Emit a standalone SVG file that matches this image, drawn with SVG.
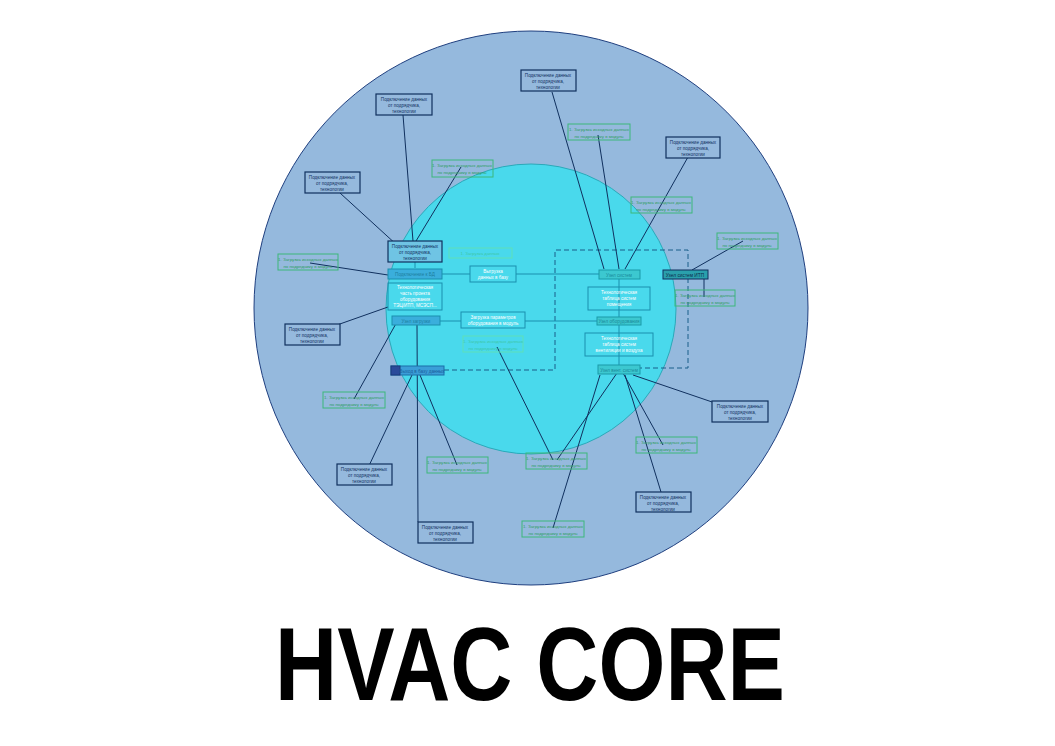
<svg xmlns="http://www.w3.org/2000/svg" width="1055" height="746" viewBox="0 0 1055 746">
<style>
.nd rect{fill:#95b9dd;stroke:#10305e;stroke-width:1.2}
.nd text{fill:#10305e;font-family:"Liberation Sans Narrow","Liberation Sans",sans-serif;font-size:4.6px;text-anchor:middle}
.gr rect{fill:none;stroke:#3db87a;stroke-width:1}
.gr text{fill:#2f9e62;font-family:"Liberation Sans Narrow","Liberation Sans",sans-serif;font-size:4.4px;text-anchor:middle}
.gi rect{fill:none;stroke:#5ee0b8;stroke-width:1}
.gi text{fill:#3ec8a8;font-family:"Liberation Sans Narrow","Liberation Sans",sans-serif;font-size:4.4px;text-anchor:middle}
.tl rect{fill:none;stroke:#1a8fae;stroke-width:1}
.tl text{fill:#fff;font-family:"Liberation Sans Narrow","Liberation Sans",sans-serif;font-size:4.6px;text-anchor:middle}
.tf rect{fill:#3aaedc;stroke:#1a8fae;stroke-width:1}
.tf text{fill:#1d7fa0;font-family:"Liberation Sans Narrow","Liberation Sans",sans-serif;font-size:4.6px;text-anchor:middle}
.tt rect{fill:#3cc8d0;stroke:#1a9aa8;stroke-width:1}
.tt text{fill:#1a8a9a;font-family:"Liberation Sans Narrow","Liberation Sans",sans-serif;font-size:4.6px;text-anchor:middle}
.ln line{stroke:#10305e;stroke-width:1}
.li line{stroke:#1a8fae;stroke-width:1}
.ds{fill:none;stroke:#1a5f8a;stroke-width:1;stroke-dasharray:5,3}
</style>
<rect width="1055" height="746" fill="#fff"/>
<circle cx="531" cy="308" r="277" fill="#95b9dd" stroke="#1f3f7f" stroke-width="1"/>
<circle cx="531" cy="309" r="145" fill="#49d9ec" stroke="#2aa9b9" stroke-width="1"/>

<g id="connectors">
<path class="ds" d="M444,370 H555 V250 H688 V368 H640"/>
<g class="ln">
<line x1="403" y1="115" x2="413" y2="241"/>
<line x1="340" y1="193" x2="398" y2="246"/>
<line x1="461" y1="167" x2="416" y2="241"/>
<line x1="310" y1="263" x2="388" y2="275"/>
<line x1="337" y1="325" x2="388" y2="307"/>
<line x1="354" y1="399" x2="398" y2="320"/>
<line x1="412" y1="375" x2="366" y2="472"/>
<line x1="420" y1="375" x2="457" y2="465"/>
<line x1="417" y1="325" x2="418" y2="522"/>
<line x1="552" y1="92" x2="604" y2="269"/>
<line x1="598" y1="135" x2="619" y2="269"/>
<line x1="688" y1="157" x2="625" y2="269"/>
<line x1="743" y1="241" x2="692" y2="270"/>
<line x1="704" y1="278" x2="704" y2="297"/>
<line x1="633" y1="375" x2="718" y2="404"/>
<line x1="625" y1="375" x2="661" y2="492"/>
<line x1="623" y1="373" x2="663" y2="445"/>
<line x1="617" y1="373" x2="557" y2="460"/>
<line x1="600" y1="375" x2="553" y2="528"/>
<line x1="497" y1="347" x2="553" y2="460"/>
</g>
<g class="li">
<line x1="442" y1="274" x2="470" y2="274"/>
<line x1="516" y1="274" x2="599" y2="274"/>
<line x1="440" y1="321" x2="461" y2="321"/>
<line x1="525" y1="321" x2="597" y2="321"/>
<line x1="619" y1="279" x2="619" y2="365"/>
<line x1="415" y1="262" x2="415" y2="268"/>
</g>
</g>

<g id="n1" class="nd"><rect x="376" y="94" width="56" height="21"/><text x="404" y="101">Подключение данных</text><text x="404" y="107">от подрядчика,</text><text x="404" y="113">технологии</text></g>
<g id="n2" class="nd"><rect x="521" y="70" width="55" height="21"/><text x="548" y="77">Подключение данных</text><text x="548" y="83">от подрядчика,</text><text x="548" y="89">технологии</text></g>
<g id="n3" class="nd"><rect x="666" y="137" width="54" height="21"/><text x="693" y="144">Подключение данных</text><text x="693" y="150">от подрядчика,</text><text x="693" y="156">технологии</text></g>
<g id="n4" class="nd"><rect x="305" y="172" width="55" height="21"/><text x="332" y="179">Подключение данных</text><text x="332" y="185">от подрядчика,</text><text x="332" y="191">технологии</text></g>
<g id="n5" class="nd"><rect x="388" y="241" width="54" height="21" style="fill:#6fc4e4"/><text x="415" y="248">Подключение данных</text><text x="415" y="254">от подрядчика,</text><text x="415" y="260">технологии</text></g>
<g id="n6" class="nd"><rect x="285" y="324" width="55" height="21"/><text x="312" y="331">Подключение данных</text><text x="312" y="337">от подрядчика,</text><text x="312" y="343">технологии</text></g>
<g id="n7" class="nd"><rect x="712" y="401" width="56" height="21"/><text x="740" y="408">Подключение данных</text><text x="740" y="414">от подрядчика,</text><text x="740" y="420">технологии</text></g>
<g id="n8" class="nd"><rect x="636" y="492" width="55" height="20"/><text x="663" y="499">Подключение данных</text><text x="663" y="505">от подрядчика,</text><text x="663" y="511">технологии</text></g>
<g id="n9" class="nd"><rect x="337" y="464" width="55" height="21"/><text x="364" y="471">Подключение данных</text><text x="364" y="477">от подрядчика,</text><text x="364" y="483">технологии</text></g>
<g id="n10" class="nd"><rect x="418" y="522" width="55" height="21"/><text x="445" y="529">Подключение данных</text><text x="445" y="535">от подрядчика,</text><text x="445" y="541">технологии</text></g>

<g id="g1" class="gr"><rect x="432" y="160" width="61" height="17"/><text x="462" y="167">1. Загрузка исходных данных</text><text x="462" y="174">по подрядчику в модуль</text></g>
<g id="g2" class="gr"><rect x="568" y="124" width="62" height="16"/><text x="599" y="131">1. Загрузка исходных данных</text><text x="599" y="138">по подрядчику в модуль</text></g>
<g id="g3" class="gr"><rect x="631" y="197" width="61" height="16"/><text x="661" y="204">1. Загрузка исходных данных</text><text x="661" y="211">по подрядчику в модуль</text></g>
<g id="g4" class="gr"><rect x="717" y="233" width="61" height="16"/><text x="747" y="240">1. Загрузка исходных данных</text><text x="747" y="247">по подрядчику в модуль</text></g>
<g id="g5" class="gr"><rect x="278" y="254" width="60" height="16"/><text x="308" y="261">1. Загрузка исходных данных</text><text x="308" y="268">по подрядчику в модуль</text></g>
<g id="g6" class="gr"><rect x="675" y="290" width="60" height="16"/><text x="705" y="297">1. Загрузка исходных данных</text><text x="705" y="304">по подрядчику в модуль</text></g>
<g id="g7" class="gr"><rect x="323" y="392" width="62" height="16"/><text x="354" y="399">1. Загрузка исходных данных</text><text x="354" y="406">по подрядчику в модуль</text></g>
<g id="g8" class="gr"><rect x="427" y="457" width="61" height="16"/><text x="457" y="464">1. Загрузка исходных данных</text><text x="457" y="471">по подрядчику в модуль</text></g>
<g id="g9" class="gr"><rect x="526" y="453" width="61" height="16"/><text x="556" y="460">1. Загрузка исходных данных</text><text x="556" y="467">по подрядчику в модуль</text></g>
<g id="g10" class="gr"><rect x="522" y="521" width="62" height="16"/><text x="553" y="528">1. Загрузка исходных данных</text><text x="553" y="535">по подрядчику в модуль</text></g>
<g id="g13" class="gr"><rect x="636" y="437" width="61" height="16"/><text x="666" y="444">1. Загрузка исходных данных</text><text x="666" y="451">по подрядчику в модуль</text></g>
<g id="g11" class="gi"><rect x="449" y="248" width="63" height="10"/><text x="480" y="255">1. Загрузка данных</text></g>
<g id="g12" class="gi"><rect x="463" y="336" width="60" height="16"/><text x="493" y="343">1. Загрузка исходных данных</text><text x="493" y="350">по подрядчику в модуль</text></g>

<g id="t1" class="tf"><rect x="388" y="269" width="54" height="10"/><text x="415" y="276">Подключение к БД</text></g>
<g id="t2" class="tl"><rect x="388" y="283" width="54" height="27"/><text x="415" y="289">Технологическая</text><text x="415" y="295">часть проекта</text><text x="415" y="301">оборудования</text><text x="415" y="307">ТЭЦ/ИТП, МСЭСП...</text></g>
<g id="t3" class="tl"><rect x="470" y="266" width="46" height="16"/><text x="493" y="273">Выгрузка</text><text x="493" y="279">данных в базу</text></g>
<g id="t4" class="tf"><rect x="392" y="316" width="48" height="9"/><text x="416" y="322.5">Узел загрузки</text></g>
<g id="t5" class="tl"><rect x="461" y="312" width="64" height="16"/><text x="493" y="319">Загрузка параметров</text><text x="493" y="325">оборудования в модуль</text></g>
<g id="t6" class="tt"><rect x="599" y="270" width="41" height="9"/><text x="619" y="276.5">Узел систем</text></g>
<g id="t7" class="tl"><rect x="588" y="287" width="62" height="23"/><text x="619" y="294">Технологическая</text><text x="619" y="300">таблица систем</text><text x="619" y="306">помещения</text></g>
<g id="t8" class="tt"><rect x="597" y="317" width="44" height="8"/><text x="619" y="322.5">Узел оборудования</text></g>
<g id="t9" class="tl"><rect x="585" y="333" width="68" height="23"/><text x="619" y="340">Технологическая</text><text x="619" y="346">таблица систем</text><text x="619" y="352">вентиляции и воздуха</text></g>
<g id="t10" class="tt"><rect x="598" y="365" width="42" height="9"/><text x="619" y="371.5">Узел вент. систем</text></g>
<g id="t11"><rect x="663" y="270" width="45" height="9" fill="#2aa0ac" stroke="#10305e" stroke-width="1"/><text x="685" y="276.5" fill="#0d2a4a" font-family="Liberation Sans Narrow,Liberation Sans,sans-serif" font-size="4.8" text-anchor="middle">Узел систем ИТП</text></g>
<g id="t12"><rect x="391" y="366" width="53" height="9" fill="#3a9ed8" stroke="#1a6fa8" stroke-width="1"/><rect x="391" y="366" width="9" height="9" fill="#2a4a9a" stroke="#1a3a7a" stroke-width="1"/><text x="422" y="372.5" fill="#1a5f9a" font-family="Liberation Sans Narrow,Liberation Sans,sans-serif" font-size="4.6" text-anchor="middle">Выход в базу данных</text></g>

<text id="title" x="530" y="700" font-family="Liberation Sans Narrow,Liberation Sans,Arial,sans-serif" font-weight="bold" font-size="104" text-anchor="middle" textLength="510" lengthAdjust="spacingAndGlyphs" fill="#000">HVAC CORE</text>
</svg>
